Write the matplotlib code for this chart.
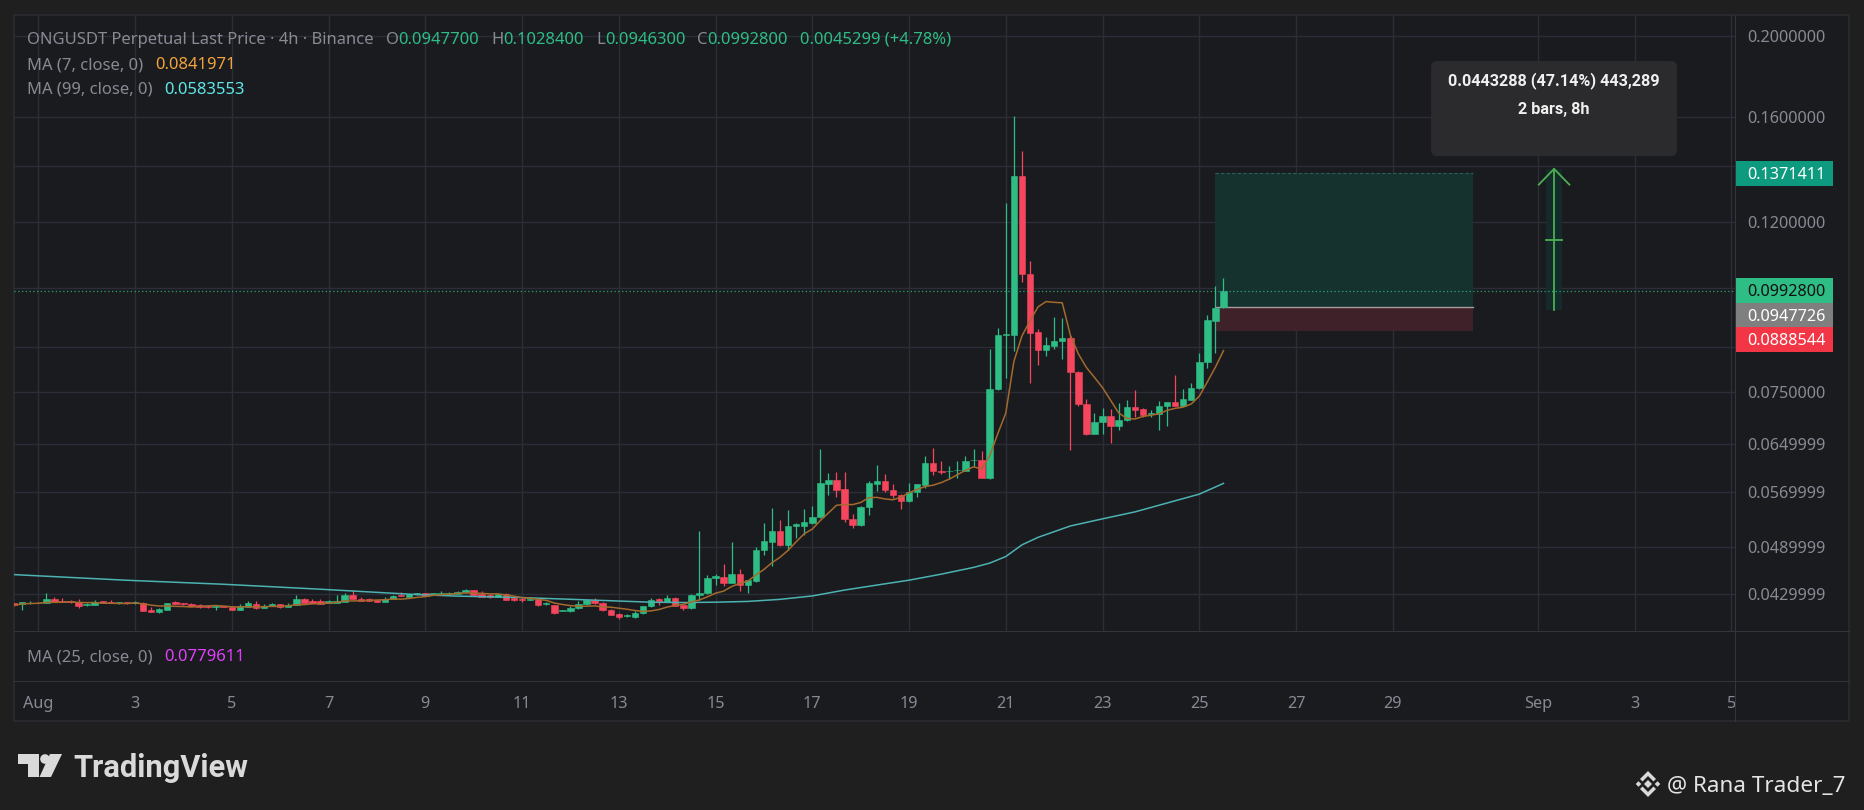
import numpy as np
import pandas as pd
import matplotlib
matplotlib.use("Agg")
import matplotlib.pyplot as plt
from matplotlib.lines import Line2D
from matplotlib.patches import Rectangle, FancyBboxPatch, Polygon, Circle
from matplotlib.transforms import IdentityTransform, offset_copy

# ---- values: 4h candles, bar 0 = Aug 1 00:00 ----
first_bar = -3
opens = [0.04197, 0.04185, 0.04193, 0.04197, 0.04193, 0.04248, 0.04224, 0.04220, 0.04205, 0.04174,
         0.04170, 0.04217, 0.04209, 0.04193, 0.04209, 0.04193, 0.04201, 0.04119, 0.04100, 0.04123,
         0.04205, 0.04193, 0.04181, 0.04170, 0.04166, 0.04146, 0.04162, 0.04150, 0.04123, 0.04150,
         0.04189, 0.04135, 0.04162, 0.04181, 0.04146, 0.04170, 0.04248, 0.04220, 0.04217, 0.04201,
         0.04193, 0.04205, 0.04295, 0.04248, 0.04240, 0.04232, 0.04205, 0.04244, 0.04291, 0.04263,
         0.04298, 0.04310, 0.04298, 0.04298, 0.04298, 0.04306, 0.04322, 0.04346, 0.04306, 0.04286,
         0.04267, 0.04306, 0.04255, 0.04243, 0.04231, 0.04243, 0.04181, 0.04174, 0.04106, 0.04102,
         0.04136, 0.04181, 0.04235, 0.04197, 0.04121, 0.04076, 0.04045, 0.04034, 0.04079, 0.04166,
         0.04239, 0.04208, 0.04259, 0.04170, 0.04136, 0.04288, 0.04311, 0.04503, 0.04512, 0.04438,
         0.04550, 0.04406, 0.04462, 0.04852, 0.04970, 0.05124, 0.04930, 0.05185, 0.05195, 0.05228,
         0.05314, 0.05834, 0.05893, 0.05751, 0.05295, 0.05200, 0.05463, 0.05834, 0.05877, 0.05735,
         0.05656, 0.05554, 0.05694, 0.05813, 0.06166, 0.06042, 0.06031, 0.06048, 0.06042, 0.06218,
         0.06230, 0.05928, 0.07560, 0.08787, 0.08787, 0.13618, 0.10397, 0.08852, 0.08439, 0.08526,
         0.08629, 0.08716, 0.07938, 0.07267, 0.06696, 0.06904, 0.07030, 0.06828, 0.06942, 0.07201,
         0.07168, 0.07056, 0.07056, 0.07214, 0.07306, 0.07227, 0.07353, 0.07581, 0.08144, 0.09138,
         0.09477]
highs = [0.04201, 0.04205, 0.04224, 0.04209, 0.04310, 0.04271, 0.04259, 0.04228, 0.04244, 0.04193,
         0.04232, 0.04220, 0.04228, 0.04209, 0.04213, 0.04220, 0.04205, 0.04146, 0.04135, 0.04197,
         0.04217, 0.04197, 0.04193, 0.04189, 0.04178, 0.04174, 0.04166, 0.04154, 0.04189, 0.04220,
         0.04224, 0.04189, 0.04201, 0.04185, 0.04193, 0.04295, 0.04259, 0.04248, 0.04244, 0.04228,
         0.04295, 0.04310, 0.04353, 0.04271, 0.04252, 0.04236, 0.04271, 0.04287, 0.04326, 0.04306,
         0.04314, 0.04314, 0.04314, 0.04337, 0.04322, 0.04341, 0.04366, 0.04354, 0.04342, 0.04306,
         0.04310, 0.04310, 0.04259, 0.04263, 0.04247, 0.04247, 0.04204, 0.04178, 0.04121, 0.04166,
         0.04223, 0.04239, 0.04255, 0.04208, 0.04125, 0.04080, 0.04072, 0.04110, 0.04166, 0.04255,
         0.04255, 0.04290, 0.04263, 0.04174, 0.04306, 0.05122, 0.04533, 0.04545, 0.04677, 0.04970,
         0.04613, 0.04478, 0.04892, 0.05237, 0.05459, 0.05280, 0.05429, 0.05233, 0.05444, 0.05487,
         0.06420, 0.06009, 0.06015, 0.06026, 0.05364, 0.05478, 0.05877, 0.06144, 0.05992, 0.05828,
         0.05662, 0.05845, 0.05834, 0.06287, 0.06438, 0.06207, 0.06126, 0.06207, 0.06296, 0.06420,
         0.06380, 0.08446, 0.08961, 0.12629, 0.16061, 0.14585, 0.10763, 0.08928, 0.08728, 0.09225,
         0.09199, 0.08787, 0.07945, 0.07366, 0.07083, 0.07188, 0.07168, 0.07280, 0.07346, 0.07553,
         0.07175, 0.07148, 0.07326, 0.07313, 0.07868, 0.07574, 0.07699, 0.08363, 0.09285, 0.10054,
         0.10284]
lows = [0.04166, 0.04119, 0.04185, 0.04193, 0.04193, 0.04205, 0.04209, 0.04201, 0.04135, 0.04158,
        0.04170, 0.04193, 0.04193, 0.04189, 0.04189, 0.04189, 0.04111, 0.04096, 0.04088, 0.04123,
        0.04181, 0.04178, 0.04158, 0.04142, 0.04139, 0.04123, 0.04146, 0.04119, 0.04123, 0.04150,
        0.04131, 0.04135, 0.04162, 0.04142, 0.04146, 0.04170, 0.04201, 0.04197, 0.04181, 0.04197,
        0.04193, 0.04205, 0.04240, 0.04224, 0.04220, 0.04205, 0.04205, 0.04244, 0.04275, 0.04263,
        0.04295, 0.04283, 0.04295, 0.04295, 0.04295, 0.04302, 0.04318, 0.04282, 0.04263, 0.04251,
        0.04263, 0.04231, 0.04223, 0.04212, 0.04227, 0.04166, 0.04174, 0.04076, 0.04102, 0.04098,
        0.04132, 0.04178, 0.04189, 0.04110, 0.04060, 0.04015, 0.04042, 0.04030, 0.04076, 0.04151,
        0.04170, 0.04204, 0.04162, 0.04121, 0.04132, 0.04235, 0.04307, 0.04406, 0.04394, 0.04434,
        0.04334, 0.04311, 0.04442, 0.04786, 0.04643, 0.04907, 0.04861, 0.05025, 0.05057, 0.05224,
        0.05310, 0.05645, 0.05615, 0.05247, 0.05157, 0.05196, 0.05354, 0.05719, 0.05699, 0.05605,
        0.05444, 0.05550, 0.05615, 0.05756, 0.05972, 0.05987, 0.05907, 0.05923, 0.06036, 0.06116,
        0.05923, 0.05911, 0.07556, 0.07800, 0.08416, 0.10178, 0.07706, 0.08091, 0.08295, 0.08446,
        0.08227, 0.06401, 0.07214, 0.06660, 0.06690, 0.06696, 0.06515, 0.06752, 0.06936, 0.07011,
        0.06999, 0.07017, 0.06765, 0.06841, 0.07220, 0.07220, 0.07346, 0.07574, 0.08017, 0.08356,
        0.09463]
closes = [0.04170, 0.04205, 0.04201, 0.04201, 0.04248, 0.04209, 0.04209, 0.04205, 0.04158, 0.04181,
          0.04209, 0.04197, 0.04197, 0.04205, 0.04193, 0.04205, 0.04111, 0.04100, 0.04131, 0.04193,
          0.04181, 0.04181, 0.04162, 0.04154, 0.04150, 0.04158, 0.04150, 0.04123, 0.04162, 0.04193,
          0.04135, 0.04166, 0.04181, 0.04146, 0.04178, 0.04248, 0.04201, 0.04197, 0.04181, 0.04217,
          0.04217, 0.04295, 0.04240, 0.04224, 0.04220, 0.04205, 0.04248, 0.04283, 0.04275, 0.04302,
          0.04310, 0.04283, 0.04310, 0.04310, 0.04318, 0.04330, 0.04354, 0.04286, 0.04267, 0.04267,
          0.04306, 0.04235, 0.04227, 0.04227, 0.04243, 0.04170, 0.04193, 0.04087, 0.04117, 0.04136,
          0.04189, 0.04235, 0.04193, 0.04113, 0.04064, 0.04034, 0.04057, 0.04087, 0.04162, 0.04235,
          0.04223, 0.04259, 0.04166, 0.04136, 0.04290, 0.04319, 0.04499, 0.04516, 0.04438, 0.04550,
          0.04406, 0.04474, 0.04861, 0.04984, 0.05124, 0.04930, 0.05195, 0.05214, 0.05252, 0.05324,
          0.05845, 0.05893, 0.05735, 0.05285, 0.05200, 0.05473, 0.05845, 0.05877, 0.05725, 0.05646,
          0.05554, 0.05704, 0.05828, 0.06166, 0.06031, 0.06015, 0.06042, 0.06059, 0.06213, 0.06230,
          0.05928, 0.07574, 0.08787, 0.08803, 0.13618, 0.10378, 0.08844, 0.08439, 0.08550, 0.08645,
          0.08716, 0.07923, 0.07254, 0.06696, 0.06916, 0.07030, 0.06828, 0.06954, 0.07201, 0.07148,
          0.07050, 0.07076, 0.07227, 0.07306, 0.07227, 0.07366, 0.07595, 0.08159, 0.09155, 0.09468,
          0.09928]

ma99_bars = [-3, 11, 23, 35, 47, 52, 60, 68, 76, 80, 84, 88, 92, 96, 100, 104, 108, 112, 116,
             118, 120, 122, 124, 128, 132, 136, 139, 144, 147]
ma99_values = [0.04539, 0.04469, 0.04420, 0.04360, 0.04296, 0.04278, 0.04261, 0.04234, 0.04207,
               0.04203, 0.04207, 0.04216, 0.04240, 0.04280, 0.04350, 0.04410, 0.04470, 0.04545,
               0.04630, 0.04685, 0.04771, 0.04927, 0.05030, 0.05190, 0.05293, 0.05395, 0.05495,
               0.05666, 0.05836]

price_ticks = [0.2, 0.16, 0.14, 0.12, 0.1, 0.085, 0.075, 0.065, 0.057, 0.049, 0.043]
price_tick_labels = ["0.2000000", "0.1600000", "0.1400000", "0.1200000", "0.1000000", "0.0850000",
                     "0.0750000", "0.0649999", "0.0569999", "0.0489999", "0.0429999"]
date_tick_bars = [0, 12, 24, 36, 48, 60, 72, 84, 96, 108, 120, 132, 144, 156, 168, 186, 198, 210]
date_tick_labels = ["Aug", "3", "5", "7", "9", "11", "13", "15", "17", "19", "21", "23", "25",
                    "27", "29", "Sep", "3", "5"]

legend_ohlc = ["0.0947700", "0.1028400", "0.0946300", "0.0992800"]
legend_change = "0.0045299 (+4.78%)"
ma7_last = "0.0841971"
ma99_last = "0.0583553"
ma25_last = "0.0779611"

last_price = 0.09928
target_price = 0.1371411
entry_price = 0.0947726
stop_price = 0.0888544
position_bars = (146, 178)

measure_bars = (187, 189)
measure_from = 0.0940
measure_to = 0.1388
measure_lines = ["0.0443288 (47.14%) 443,289", "2 bars, 8h"]

# ---- look ----
W, H = 1864, 810
OUTER = "#1f1f1f"
PANEL = "#1a1b1f"
BORDER = "#2c2c30"
GRID = "#2b2e37"
SEP = "#33353c"
GRAY = "#878a93"
GREEN = "#2ebd85"
RED = "#f6465d"
FS = 11.7
FS_LEG = 11.95
TAG_H = 24.5

plt.rcParams["font.family"] = ["Noto Sans", "DejaVu Sans"]

fig = plt.figure(figsize=(W / 100, H / 100), dpi=100, facecolor=OUTER)
PX = IdentityTransform()


def iy(y):
    return H - y


def px_line(xs, ys, color, lw=0.75, z=1):
    fig.add_artist(Line2D(xs, [iy(v) for v in ys], color=color, lw=lw, transform=PX, zorder=z))


# panel frame and pane separators
fig.add_artist(Rectangle((14, iy(721)), 1835, 706, fc=PANEL, ec=BORDER, lw=1.2,
                         transform=PX, zorder=-1))
px_line([14, 1849], [631, 631], SEP)
px_line([14, 1849], [681, 681], SEP)
px_line([1735, 1735], [15, 721], SEP)

# main pane
ax = fig.add_axes([14 / W, (H - 631) / H, 1721 / W, 616 / H])
ax.set_facecolor("none")
ax.set_yscale("log")
ax.set_xlim(-3.01, 210.44)
ax.set_ylim(0.03886, 0.21211)
for s in ax.spines.values():
    s.set_visible(False)
ax.set_xticks(date_tick_bars)
ax.set_yticks(price_ticks)
ax.yaxis.set_minor_locator(matplotlib.ticker.NullLocator())
ax.tick_params(length=0, labelbottom=False, labelleft=False)
ax.grid(True, color=GRID, lw=1.0, zorder=0)
ax.set_axisbelow(True)

# price tags on the scale, stacked like the platform does
tags = [(target_price, "0.1371411", "#0e9a7f", "white"),
        (last_price, "0.0992800", GREEN, "#111111"),
        (entry_price, "0.0947726", "#7f7f7f", "white"),
        (stop_price, "0.0888544", "#f23645", "white")]
tag_spans = []
prev_bottom = -1e9
for price, s, fc, fg in tags:
    yc = H - ax.transData.transform((0, price))[1]
    yc = max(yc, prev_bottom + TAG_H / 2)
    prev_bottom = yc + TAG_H / 2
    tag_spans.append((yc - TAG_H / 2, yc + TAG_H / 2))
    fig.add_artist(Rectangle((1736, iy(yc + TAG_H / 2)), 97, TAG_H, fc=fc, ec="none",
                             transform=PX, zorder=6))
    fig.text(1747, iy(yc + 5.8), s, color=fg, fontsize=FS, va="baseline",
             transform=PX, zorder=7)

# price scale labels (the ones under a tag are hidden, as on the platform)
ytrans = offset_copy(ax.get_yaxis_transform(), fig=fig, x=12, y=-5.8, units="dots")
for v, s in zip(price_ticks, price_tick_labels):
    yv = H - ax.transData.transform((0, v))[1]
    if any(a - 4 < yv < b + 4 for a, b in tag_spans):
        continue
    ax.text(1.0, v, s, transform=ytrans, color=GRAY, fontsize=FS, va="baseline",
            ha="left", clip_on=False)

# time scale labels
for b, s in zip(date_tick_bars, date_tick_labels):
    ax.text(b, (631 - 708) / 616, s, transform=ax.get_xaxis_transform(), color=GRAY,
            fontsize=FS, va="baseline", ha="center", clip_on=False)

# long position tool
p0, p1 = position_bars
ax.add_patch(Rectangle((p0, entry_price), p1 - p0, target_price - entry_price,
                       fc="#16322f", ec="none", zorder=1))
ax.add_patch(Rectangle((p0, stop_price), p1 - p0, entry_price - stop_price,
                       fc="#3f2129", ec="none", zorder=1))
ax.plot([p0, p1], [target_price, target_price], color="#2f5d57", lw=0.8,
        ls=(0, (3, 2)), zorder=1.5)
ax.plot([p0, p1], [entry_price, entry_price], color="#a89a9d", lw=1.0, zorder=1.5)

# measure tool
m0, m1 = measure_bars
mc = (m0 + m1) / 2
ax.add_patch(Rectangle((m0, measure_from), m1 - m0, measure_to - measure_from,
                       fc="#152a2b", ec="none", zorder=1))
ax.plot([mc, mc], [measure_from, measure_to], color="#4caf50", lw=1.3, zorder=2)
mid = np.sqrt(measure_from * measure_to)
ax.plot([m0, m1], [mid, mid], color="#4caf50", lw=1.3, zorder=2)

# candles
x = np.arange(len(opens)) + first_bar
o, h, l, c = (np.array(a) for a in (opens, highs, lows, closes))
cols = np.where(c >= o, GREEN, RED)
ax.vlines(x, l, h, colors=cols, lw=0.9, zorder=3)
ax.bar(x, np.abs(c - o), bottom=np.minimum(o, c), width=0.8, color=cols,
       edgecolor=cols, lw=0.4, zorder=4)

# moving averages
ma7 = pd.Series(closes).rolling(7, min_periods=1).mean()
ax.plot(ma99_bars, ma99_values, color="#4cb2b2", lw=1.1, zorder=5)
ax.plot(x, ma7, color="#a46a2c", lw=1.1, zorder=5)

# last price line
ax.axhline(last_price, color=GREEN, lw=0.9, ls=(0, (1, 2)), alpha=0.85, zorder=5)

# arrow head of the measure tool (pixel sized)
tx, ty = ax.transData.transform((mc, measure_to))
fig.add_artist(Line2D([tx - 15.3, tx, tx + 15.3], [ty - 15.7, ty, ty - 15.7],
                      color="#4caf50", lw=1.3, transform=PX, zorder=2))

# measure tooltip
fig.add_artist(FancyBboxPatch((tx - 123, iy(156)), 246, 95,
                              boxstyle="round,pad=0,rounding_size=6",
                              fc="#2b2b2d", ec="none", transform=PX, zorder=6))
for s, yb in zip(measure_lines, [85, 114]):
    fig.text(tx, iy(yb), s, color="#f0f0f0", fontsize=FS, weight="bold",
             family=["Roboto", "DejaVu Sans"], ha="center", va="baseline",
             transform=PX, zorder=7)

# legend rows
renderer = fig.canvas.get_renderer()


def runs(x0, ybase, parts):
    xx = x0
    for s, color, gap in parts:
        t = fig.text(xx + gap, iy(ybase), s, color=color, fontsize=FS_LEG, va="baseline",
                     transform=PX, zorder=7)
        xx = t.get_window_extent(renderer=renderer).x1


runs(27, 43.7, [("ONGUSDT Perpetual Last Price · 4h · Binance", GRAY, 0),
                ("O", GRAY, 12), (legend_ohlc[0], GREEN, 0),
                ("H", GRAY, 12), (legend_ohlc[1], GREEN, 0),
                ("L", GRAY, 12), (legend_ohlc[2], GREEN, 0),
                ("C", GRAY, 12), (legend_ohlc[3], GREEN, 0),
                (legend_change, GREEN, 12)])
runs(27, 69, [("MA (7, close, 0)", GRAY, 0), (ma7_last, "#f3a33b", 12)])
runs(27, 94, [("MA (99, close, 0)", GRAY, 0), (ma99_last, "#5ee8ea", 12)])
runs(27, 661, [("MA (25, close, 0)", GRAY, 0), (ma25_last, "#e040fb", 12)])

# TradingView mark
LOGO = "#dadada"
fig.add_artist(Polygon([(18, iy(754)), (39, iy(754)), (39, iy(777)), (28, iy(777)),
                        (28, iy(764)), (18, iy(764))], closed=True, fc=LOGO, ec="none",
                       transform=PX))
fig.add_artist(Circle((45, iy(759)), 4.8, fc=LOGO, ec="none", transform=PX))
fig.add_artist(Polygon([(50, iy(754)), (62, iy(754)), (51, iy(777)), (39.5, iy(777))],
                       closed=True, fc=LOGO, ec="none", transform=PX))
tv = fig.text(73, iy(777), "TradingView", color=LOGO, fontsize=22, weight="bold",
              family=["Roboto", "DejaVu Sans"], va="baseline", transform=PX)
tw = tv.get_window_extent(renderer=renderer).width
tv.set_fontsize(22 * 175 / tw)

# watermark
cx, cy = 1648, 784
for dx, dy, r in [(cx, cy, 4.0), (cx - 9.5, cy, 2.8), (cx + 9.5, cy, 2.8)]:
    fig.add_artist(Polygon([(dx, iy(dy - r)), (dx + r, iy(dy)), (dx, iy(dy + r)), (dx - r, iy(dy))],
                           closed=True, fc=LOGO, ec="none", transform=PX))
for sgn in (1, -1):
    pts = [(cx, cy - 13 * sgn), (cx + 8, cy - 5 * sgn), (cx + 5.5, cy - 2.5 * sgn),
           (cx, cy - 8 * sgn), (cx - 5.5, cy - 2.5 * sgn), (cx - 8, cy - 5 * sgn)]
    fig.add_artist(Polygon([(a, iy(b)) for a, b in pts], closed=True, fc=LOGO, ec="none",
                           transform=PX))
fig.text(1667, iy(792), "@ Rana Trader_7", color="#e4e4e4", fontsize=16.2,
         va="baseline", transform=PX)

fig.savefig("out.png", dpi=100, facecolor=OUTER)
